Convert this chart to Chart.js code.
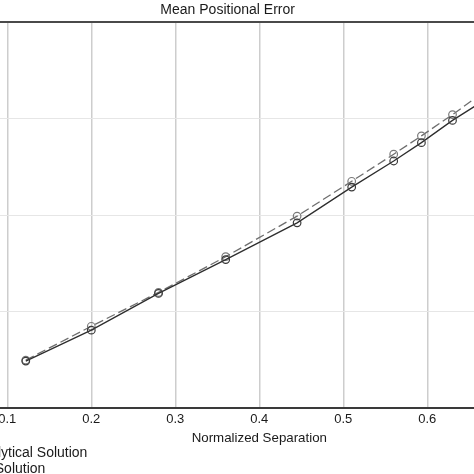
<!DOCTYPE html>
<html>
<head>
<meta charset="utf-8">
<script src="https://cdn.jsdelivr.net/npm/chart.js@4/dist/chart.umd.min.js"></script>
<style>
  html, body { margin: 0; padding: 0; background: #fff; overflow: hidden; width: 474px; height: 474px; }
  #wrap { position: absolute; left: -140px; top: 0; width: 792px; height: 474px; }
</style>
</head>
<body>
<div id="wrap"><canvas id="c"></canvas></div>
<script>
const separation = [0.122, 0.2, 0.28, 0.36, 0.445, 0.51, 0.56, 0.593, 0.63, 0.67];
const analyticalError = [0.49, 0.81, 1.19, 1.54, 1.92, 2.29, 2.56, 2.75, 2.98, 3.20];
const feError = [0.50, 0.85, 1.20, 1.57, 1.99, 2.35, 2.63, 2.82, 3.04, 3.29];
const seriesLabels = ['Analytical Solution', 'FE Solution'];
const chartTitle = 'Mean Positional Error';
const xTitle = 'Normalized Separation';

const FONT = "'Liberation Sans', Arial, sans-serif";

const toPoints = (xs, ys) => xs.map((x, i) => ({ x: x, y: ys[i] }));

const legendPlugin = {
  id: 'sideLegend',
  afterDraw(chart) {
    const ctx = chart.ctx;
    ctx.save();
    ctx.font = '14px ' + FONT;
    ctx.textBaseline = 'middle';
    ctx.textAlign = 'left';
    const textX = 113;
    const rows = [453, 469];
    chart.data.datasets.forEach((ds, i) => {
      const y = rows[i];
      ctx.strokeStyle = ds.borderColor;
      ctx.lineWidth = ds.borderWidth;
      ctx.setLineDash(ds.borderDash || []);
      ctx.beginPath();
      ctx.moveTo(textX - 40, y);
      ctx.lineTo(textX - 8, y);
      ctx.stroke();
      ctx.setLineDash([]);
      ctx.beginPath();
      ctx.arc(textX - 24, y, 3.5, 0, Math.PI * 2);
      ctx.strokeStyle = ds.pointBorderColor;
      ctx.stroke();
      ctx.fillStyle = '#1a1a1a';
      ctx.fillText(ds.label, textX, y);
    });
    ctx.restore();
  }
};

new Chart(document.getElementById('c'), {
  type: 'line',
  data: {
    datasets: [
      {
        label: seriesLabels[0],
        data: toPoints(separation, analyticalError),
        borderColor: '#2e2e2e',
        borderWidth: 1.3,
        pointRadius: 3.8,
        pointBorderColor: '#3a3a3a',
        pointBackgroundColor: 'rgba(0,0,0,0)',
        pointBorderWidth: 1.2,
        fill: false,
        tension: 0
      },
      {
        label: seriesLabels[1],
        data: toPoints(separation, feError),
        borderColor: '#6e6e6e',
        borderWidth: 1.3,
        borderDash: [9, 4],
        pointRadius: 3.8,
        pointBorderColor: '#7a7a7a',
        pointBackgroundColor: 'rgba(0,0,0,0)',
        pointBorderWidth: 1.2,
        fill: false,
        tension: 0
      }
    ]
  },
  options: {
    responsive: true,
    maintainAspectRatio: false,
    animation: false,
    devicePixelRatio: 1,
    layout: { padding: { left: 0, right: 56.7, top: 0, bottom: 28 } },
    plugins: {
      legend: { display: false },
      tooltip: { enabled: false },
      title: {
        display: true,
        text: chartTitle,
        color: '#1a1a1a',
        font: { family: FONT, size: 14, weight: 'normal' },
        padding: { top: 2, bottom: 3 }
      }
    },
    scales: {
      x: {
        type: 'linear',
        position: 'bottom',
        min: 0,
        max: 0.8,
        ticks: {
          stepSize: 0.1,
          color: '#1a1a1a',
          padding: 3,
          font: { family: FONT, size: 13 },
          callback: (v) => Number(v.toFixed(1)).toString()
        },
        grid: { color: '#cdcdcd', lineWidth: 1.5, drawTicks: false },
        border: { color: '#3a3a3a', width: 2 },
        title: {
          display: true,
          text: xTitle,
          color: '#1a1a1a',
          font: { family: FONT, size: 13.3 },
          padding: { top: 0, bottom: 0 }
        }
      },
      xTop: {
        type: 'linear',
        position: 'top',
        min: 0,
        max: 0.8,
        ticks: { display: false },
        grid: { display: false, drawTicks: false },
        border: { display: true, color: '#4a4a4a', width: 2 }
      },
      y: {
        type: 'linear',
        min: 0,
        max: 4,
        ticks: {
          stepSize: 1,
          color: '#1a1a1a',
          font: { family: FONT, size: 13 }
        },
        grid: { color: '#e6e6e6', lineWidth: 1, drawTicks: false },
        border: { color: '#cdcdcd', width: 1.5 },
        afterFit: (s) => { s.width = 63.3; }
      }
    }
  },
  plugins: [legendPlugin]
});
</script>
</body>
</html>
